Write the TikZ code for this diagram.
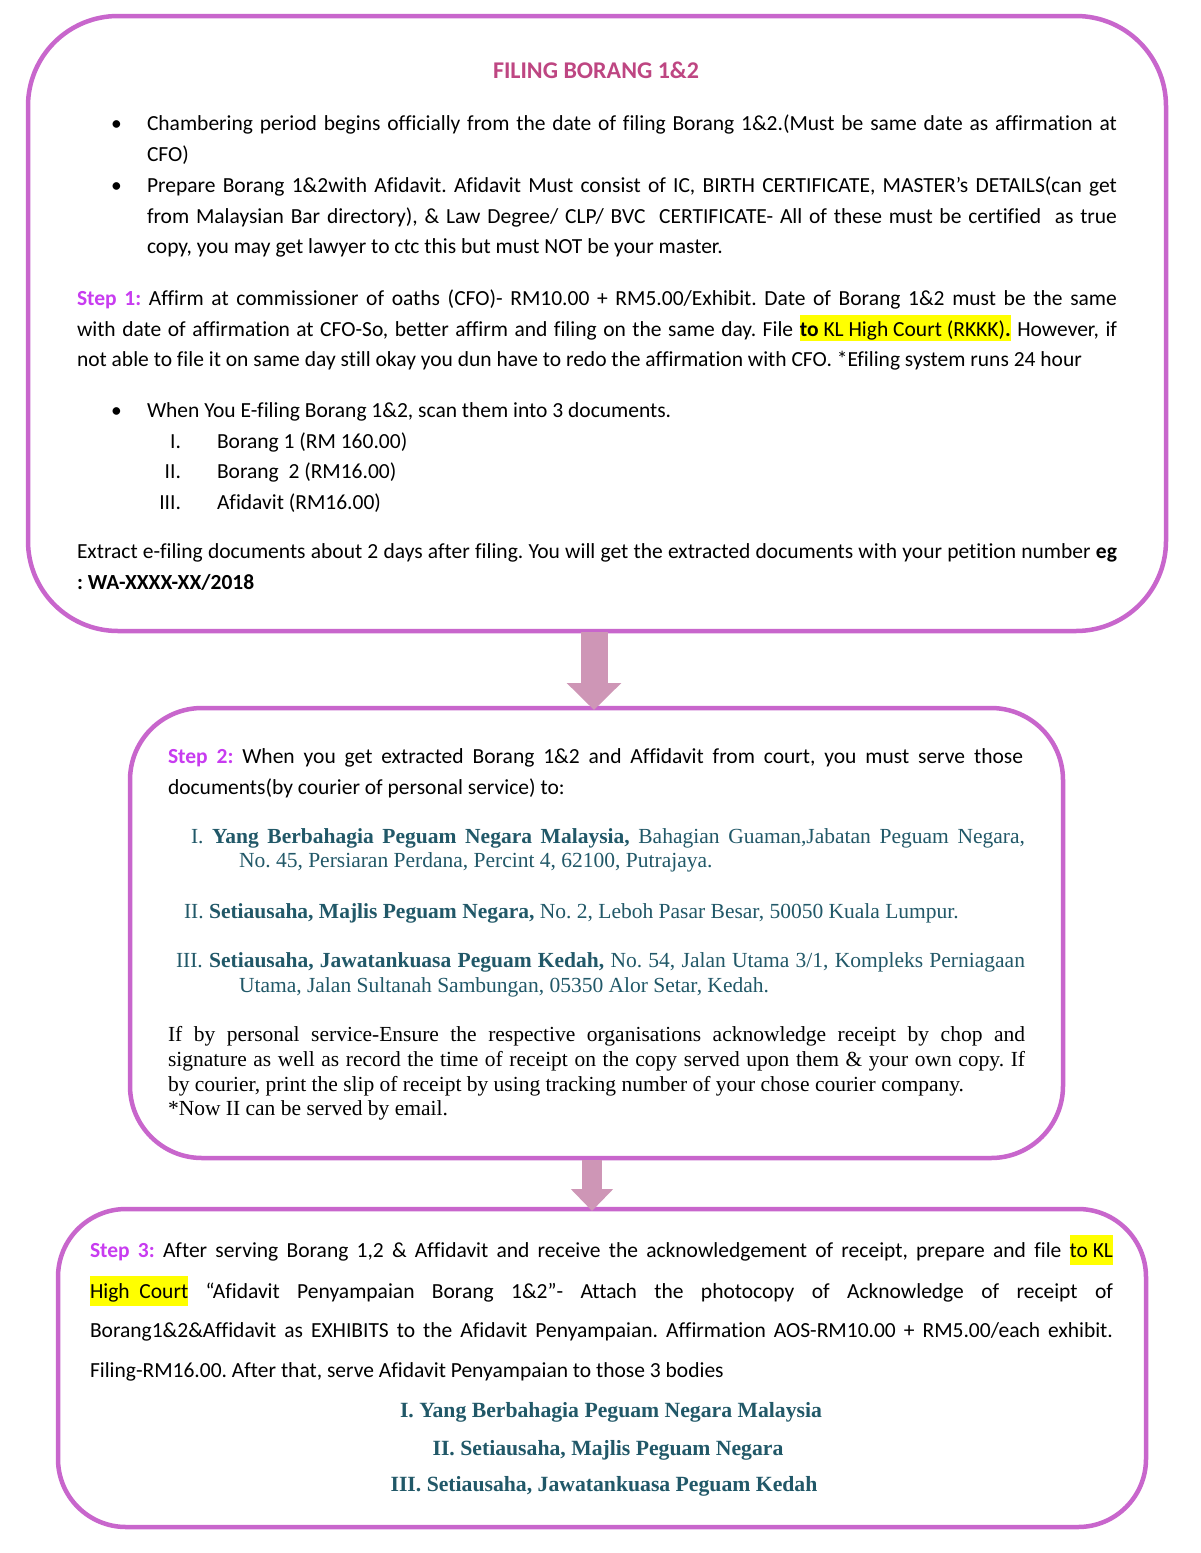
\documentclass[tikz,border=0pt]{standalone}
\usepackage{fontspec}
\setmainfont{Carlito}[Ligatures=NoCommon]
\newfontfamily\tnr{Liberation Serif}
\usetikzlibrary{arrows.meta}
\definecolor{boxline}{RGB}{200,102,204}
\definecolor{arrowfill}{RGB}{206,150,182}
\definecolor{titlecol}{RGB}{190,70,130}
\definecolor{stepcol}{RGB}{200,60,240}
\definecolor{tealtext}{RGB}{33,88,104}
\definecolor{hlyellow}{RGB}{255,255,0}
\frenchspacing
\newcommand\jl[2]{\makebox[#1][s]{#2}}
\newcommand\hla[1]{{\setlength{\fboxsep}{0pt}\colorbox{hlyellow}{\rule[-5pt]{0pt}{26pt}#1}}}
\newcommand\hlb[1]{{\setlength{\fboxsep}{0pt}\colorbox{hlyellow}{\rule[-8pt]{0pt}{30pt}#1}}}
\newcommand\stp[1]{\textbf{\textcolor{stepcol}{#1}}}
\tikzset{
  frame/.style={draw=boxline, line width=4.5pt, fill=none, inner sep=0pt, outer sep=0pt},
  ln/.style={anchor=base west, inner sep=0pt, outer sep=0pt, font=\fontsize{21.5}{26}\selectfont},
  lnr/.style={anchor=base east, inner sep=0pt, outer sep=0pt, font=\fontsize{21.5}{26}\selectfont},
  sl/.style={anchor=base west, inner sep=0pt, outer sep=0pt, text=tealtext, font=\tnr\fontsize{21.5}{24}\selectfont},
  slb/.style={anchor=base west, inner sep=0pt, outer sep=0pt, font=\tnr\fontsize{21.5}{24}\selectfont},
  slc/.style={anchor=base, inner sep=0pt, outer sep=0pt, text=tealtext, font=\tnr\bfseries\fontsize{21.7}{24}\selectfont},
  bigarrow/.style={draw=arrowfill, line width=27pt, line cap=butt, -{Triangle[width=53pt,length=27pt]}},
  smallarrow/.style={draw=arrowfill, line width=20pt, line cap=butt, -{Triangle[width=41pt,length=22pt]}},
}
\begin{document}
\begin{tikzpicture}[x=1pt,y=-1pt]
\fill[white] (0,0) rectangle (1200,1553);
\useasboundingbox (0,0) rectangle (1200,1553);

% frames
\node[frame, rounded corners=90pt, minimum width=1138pt, minimum height=615pt] (box1) at (597,323.5) {};
\node[frame, rounded corners=72pt, minimum width=933pt, minimum height=450pt] (box2) at (596.5,933) {};
\node[frame, rounded corners=68pt, minimum width=1088pt, minimum height=318pt] (box3) at (602,1368) {};

% arrows
\draw[bigarrow] ([xshift=-3pt,yshift=-1pt]box1.south) -- ([xshift=-2.5pt,yshift=-2pt]box2.north);
\draw[smallarrow] ([xshift=-4.5pt,yshift=-2pt]box2.south) -- ([xshift=-10pt,yshift=-2pt]box3.north);

% ---------- box 1 ----------
\node[anchor=base, inner sep=0pt, font=\bfseries\fontsize{24}{28}\selectfont, text=titlecol] (title) at (596,78) {FILING BORANG 1\&2};

\node[ln] (b1) at (111,130) {•};
\node[ln] (t1) at (147,130) {\jl{970pt}{Chambering period begins officially from the date of filing Borang 1\&2.(Must be same date as affirmation at}};
\node[ln] (t2) at (147,161) {CFO)};
\node[ln] (b2) at (111,192) {•};
\node[ln] (t3) at (147,192) {\jl{970pt}{Prepare Borang 1\&2with Afidavit. Afidavit Must consist of IC, BIRTH CERTIFICATE, MASTER’s DETAILS(can get}};
\node[ln] (t4) at (147,223) {\jl{970pt}{from Malaysian Bar directory), \& Law Degree/ CLP/ BVC \ CERTIFICATE- All of these must be certified \ as true}};
\node[ln] (t5) at (147,253) {copy, you may get lawyer to ctc this but must NOT be your master.};

\node[ln] (s1a) at (77,305) {\jl{1040pt}{\stp{Step 1:} Affirm at commissioner of oaths (CFO)- RM10.00 + RM5.00/Exhibit. Date of Borang 1\&2 must be the same}};
\node[ln] (s1b) at (77,336) {\jl{1040pt}{with date of affirmation at CFO-So, better affirm and filing on the same day. File \hla{\textbf{to} KL High Court (RKKK)\textbf{.}} However, if}};
\node[ln] (s1c) at (77,366) {not able to file it on same day still okay you dun have to redo the affirmation with CFO. *Efiling system runs 24 hour};

\node[ln] (b3) at (111,417) {•};
\node[ln] (t6) at (147,417) {When You E-filing Borang 1\&2, scan them into 3 documents.};
\node[lnr] (r1) at (181,448) {I.};
\node[ln] (d1) at (217,448) {Borang 1 (RM 160.00)};
\node[lnr] (r2) at (181,478) {II.};
\node[ln] (d2) at (217,478) {Borang \ 2 (RM16.00)};
\node[lnr] (r3) at (181,509) {III.};
\node[ln] (d3) at (217,509) {Afidavit (RM16.00)};

\node[ln] (e1) at (77,558) {\jl{1040pt}{Extract e-filing documents about 2 days after filing. You will get the extracted documents with your petition number \textbf{eg}}};
\node[ln] (e2) at (77,589) {\textbf{: WA-XXXX-XX/2018}};

% ---------- box 2 ----------
\node[ln] (s2a) at (168,763) {\jl{855pt}{\stp{Step 2:} When you get extracted Borang 1\&2 and Affidavit from court, you must serve those}};
\node[ln] (s2b) at (168,794) {documents(by courier of personal service) to:};

\node[sl] (p1a) at (191,843) {\jl{834pt}{I. \textbf{Yang Berbahagia Peguam Negara Malaysia,} Bahagian Guaman,Jabatan Peguam Negara,}};
\node[sl] (p1b) at (239,867) {No. 45, Persiaran Perdana, Percint 4, 62100, Putrajaya.};
\node[sl] (p2) at (184,918) {II. \textbf{Setiausaha, Majlis Peguam Negara,} No. 2, Leboh Pasar Besar, 50050 Kuala Lumpur.};
\node[sl] (p3a) at (176,967) {\jl{849pt}{III. \textbf{Setiausaha, Jawatankuasa Peguam Kedah,} No. 54, Jalan Utama 3/1, Kompleks Perniagaan}};
\node[sl] (p3b) at (239,992) {Utama, Jalan Sultanah Sambungan, 05350 Alor Setar, Kedah.};

\node[slb] (q1) at (168,1041) {\jl{857pt}{If by personal service-Ensure the respective organisations acknowledge receipt by chop and}};
\node[slb] (q2) at (168,1066) {\jl{857pt}{signature as well as record the time of receipt on the copy served upon them \& your own copy. If}};
\node[slb] (q3) at (168,1091) {by courier, print the slip of receipt by using tracking number of your chose courier company.};
\node[slb] (q4) at (168,1115) {*Now II can be served by email.};

% ---------- box 3 ----------
\node[ln] (s3a) at (90,1257) {\jl{1023pt}{\stp{Step 3:} After serving Borang 1,2 \& Affidavit and receive the acknowledgement of receipt, prepare and file \hlb{to KL}}};
\node[ln] (s3b) at (90,1298) {\jl{1023pt}{\hlb{High \ Court} “Afidavit Penyampaian Borang 1\&2”- Attach the photocopy of Acknowledge of receipt of}};
\node[ln] (s3c) at (90,1337) {\jl{1023pt}{Borang1\&2\&Affidavit as EXHIBITS to the Afidavit Penyampaian. Affirmation AOS-RM10.00 + RM5.00/each exhibit.}};
\node[ln] (s3d) at (90,1377) {Filing-RM16.00. After that, serve Afidavit Penyampaian to those 3 bodies};

\node[slc] (c1) at (611,1417) {I. Yang Berbahagia Peguam Negara Malaysia};
\node[slc] (c2) at (608,1455) {II. Setiausaha, Majlis Peguam Negara};
\node[slc] (c3) at (604,1491) {III. Setiausaha, Jawatankuasa Peguam Kedah};
\end{tikzpicture}
\end{document}
